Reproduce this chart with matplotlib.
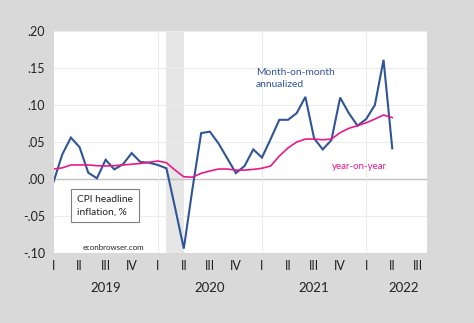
import matplotlib
matplotlib.use("Agg")
import matplotlib.pyplot as plt
import matplotlib.transforms as mtransforms

plt.rcParams['font.family'] = ['Lato', 'DejaVu Sans']

# month index: 0 = Jan 2019
months = list(range(40))
mom_annualized = [-0.004, 0.033, 0.056, 0.043, 0.0085, 0.001, 0.026, 0.013, 0.020, 0.035,
                  0.023, 0.022, 0.019, 0.0145, -0.039, -0.094, -0.013, 0.062, 0.064, 0.048,
                  0.028, 0.008, 0.0176, 0.040, 0.029, 0.054, 0.080, 0.080, 0.089, 0.111,
                  0.055, 0.040, 0.0527, 0.110, 0.089, 0.072, 0.081, 0.100, 0.161, 0.0415]
yoy = [0.0135, 0.015, 0.019, 0.019, 0.019, 0.018, 0.0176, 0.018, 0.019, 0.020,
       0.021, 0.0226, 0.0243, 0.022, 0.012, 0.003, 0.0025, 0.0077, 0.0108, 0.0135,
       0.0135, 0.012, 0.012, 0.013, 0.0145, 0.0176, 0.031, 0.042, 0.050, 0.054,
       0.054, 0.053, 0.054, 0.0626, 0.0685, 0.072, 0.076, 0.081, 0.0865, 0.083]

quarter_pos = [0, 3, 6, 9, 12, 15, 18, 21, 24, 27, 30, 33, 36, 39, 42]
quarter_labels = ['I', 'II', 'III', 'IV'] * 3 + ['I', 'II', 'III']
year_labels = ['2019', '2020', '2021', '2022']
year_pos = [6, 18, 30, 40.3]
recession = (13, 15)
yticks = [-0.10, -0.05, 0.00, 0.05, 0.10, 0.15, 0.20]
ytick_labels = ['-.10', '-.05', '.00', '.05', '.10', '.15', '.20']

BG = '#d9d9d9'
BLUE = '#2f5597'
PINK = '#e8198b'

fig = plt.figure(figsize=(4.74, 3.23), dpi=100, facecolor=BG)
ax = fig.add_axes([0.1129, 0.2167, 0.9008 - 0.1129, 0.904 - 0.2167])
ax.set_facecolor('white')
ax.set_xlim(0, 43)
ax.set_ylim(-0.10, 0.20)

for s in ax.spines.values():
    s.set_visible(False)

# grid
for y in yticks:
    ax.axhline(y, color='#c2c2c2' if y == 0 else '#ececec', lw=1.0 if y == 0 else 0.8, zorder=1)
for x in [12, 24, 36]:
    ax.axvline(x, color='#ececec', lw=0.8, zorder=1)

ax.axvspan(recession[0], recession[1], color='#e6e6e6', lw=0, zorder=0.5)

ax.plot(months, mom_annualized, color=BLUE, lw=1.5, zorder=3, solid_joinstyle='miter')
ax.plot(months, yoy, color=PINK, lw=1.2, zorder=4)

ax.set_yticks(yticks)
ax.set_yticklabels(ytick_labels, fontsize=9, color='#222222')
ax.set_xticks(quarter_pos)
ax.set_xticklabels(quarter_labels, fontsize=9, color='#222222')
ax.tick_params(axis='both', length=0)
ax.tick_params(axis='y', pad=6)
ax.tick_params(axis='x', pad=5)

trans = mtransforms.blended_transform_factory(ax.transData, ax.transAxes)
for lab, pos in zip(year_labels, year_pos):
    ax.text(pos, -0.158, lab, transform=trans, ha='center', va='center', fontsize=9.5, color='#222222')

ax.text(23.3, 0.1505, 'Month-on-month\nannualized', color=BLUE, fontsize=7.4, ha='left', va='top',
        linespacing=1.45)
ax.text(32.0, 0.0165, 'year-on-year', color=PINK, fontsize=7.0, ha='left', va='center')

ax.text(5.95, -0.036, 'CPI headline\ninflation, %', fontsize=7.3, color='#222222', ha='center',
        va='center', multialignment='left', linespacing=1.5,
        bbox=dict(boxstyle='square,pad=0.6', facecolor='white', edgecolor='#7f7f7f', lw=0.8))
ax.text(6.9, -0.0932, 'econbrowser.com', fontsize=5.7, color='#222222', ha='center', va='center')

fig.savefig('out.png', dpi=100, facecolor=BG)
